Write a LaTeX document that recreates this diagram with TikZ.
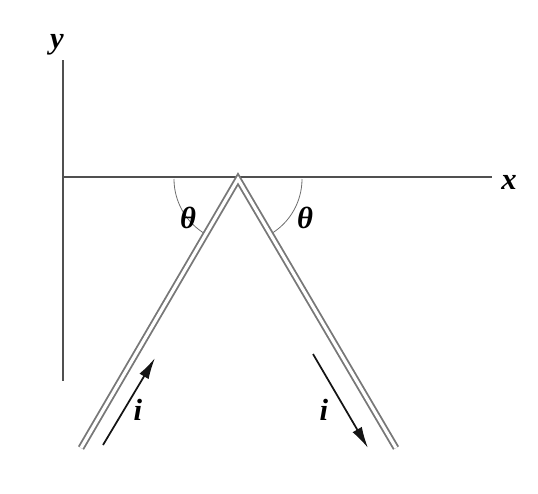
\documentclass[tikz,border=0pt]{standalone}
\usepackage{fontspec}
\setmainfont{Liberation Serif}
\usetikzlibrary{arrows.meta}

\tikzset{every picture/.style={line width=0.75pt}}
\tikzset{
  axisline/.style={draw={rgb,255:red,80;green,80;blue,80},line width=1.1pt},
  wireline/.style={draw={rgb,255:red,120;green,120;blue,120},double=white,double distance=2.4pt,line width=1.4pt},
  anglearc/.style={draw={rgb,255:red,110;green,110;blue,110},line width=0.6pt},
  currentarrow/.style={draw={rgb,255:red,20;green,20;blue,20},line width=1.3pt,-{Latex[length=16pt,width=8pt]}},
  lbl/.style={inner sep=0.75pt,font=\fontsize{23}{26}\selectfont\bfseries\itshape}
}

\begin{document}
\begin{tikzpicture}[x=0.75pt,y=0.75pt,yscale=-1,xscale=1]
\useasboundingbox (0,0) rectangle (538,493);

% Coordinates
\coordinate (yTop) at (63,60);
\coordinate (yBot) at (63,381);
\coordinate (xEnd) at (492,177);
\coordinate (apex) at (238,179);
\coordinate (wireL) at (81,448);
\coordinate (wireR) at (396,448);
\coordinate (inTail) at (103,445);
\coordinate (inHead) at (155,358);
\coordinate (outTail) at (313,354);
\coordinate (outHead) at (368,448);

%Shape: Axes
\draw [axisline] (yTop) -- (yBot);
\draw [axisline] (yBot |- xEnd) -- (xEnd);

%Shape: Arcs
\draw [anglearc] (apex) ++(180:64) arc (180:120:64);
\draw [anglearc] (apex) ++(0:64) arc (0:60:64);

%Shape: Wire
\draw [wireline,line join=miter] (wireL) -- (apex) -- (wireR);

%Shape: Current arrows
\draw [currentarrow] (inTail) -- (inHead);
\draw [currentarrow] (outTail) -- (outHead);

% Text Node
\node [lbl] (ylabel) at (57,45) {y};
% Text Node
\node [lbl] (xlabel) at (509,182) {x};
% Text Node
\node [lbl] (thetaL) at (188,218) {θ};
% Text Node
\node [lbl] (thetaR) at (305,218) {θ};
% Text Node
\node [lbl] (iL) at (138,410) {i};
% Text Node
\node [lbl] (iR) at (324,410) {i};

\end{tikzpicture}
\end{document}
